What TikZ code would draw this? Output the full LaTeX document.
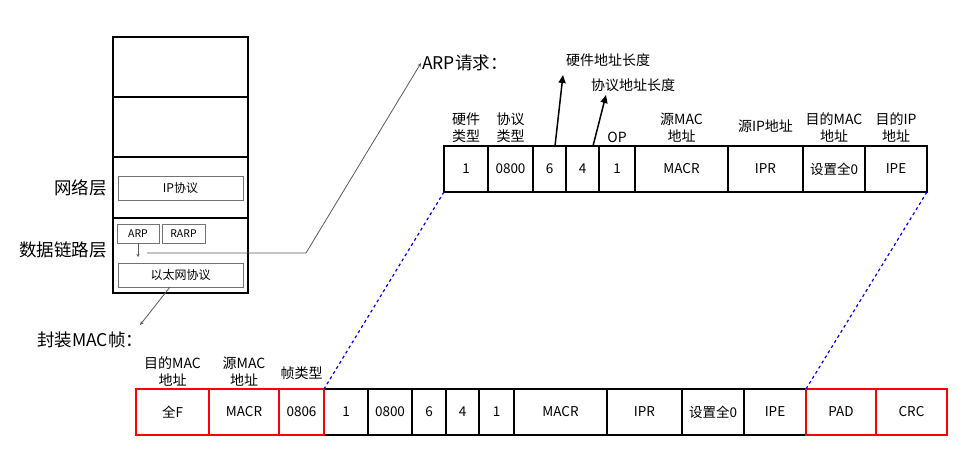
\documentclass[tikz,border=0pt]{standalone}
\usepackage{fontspec}
\setmainfont{Noto Sans CJK SC}
\usetikzlibrary{positioning,arrows.meta}
\begin{document}
\begin{tikzpicture}[x=1pt,y=-1pt,node distance=0pt,
layer/.style={draw,line width=1.5pt,minimum width=135pt,inner sep=0pt,outer sep=0pt},
inbox/.style={draw=black!55,line width=0.8pt,inner sep=0pt,outer sep=0pt,font=\fontsize{12}{14}\selectfont},
cell/.style={draw,line width=1.5pt,minimum height=46pt,inner sep=0pt,outer sep=0pt,font=\fontsize{13.5}{15}\selectfont},
lab/.style={align=center,inner sep=1pt,font=\fontsize{14}{17}\selectfont},
biglab/.style={inner sep=1pt,font=\fontsize{17.5}{20}\selectfont},
gline/.style={draw=black!65,line width=0.8pt,-{Stealth[length=4pt,width=3.5pt]}},
karrow/.style={line width=1.5pt,-{Triangle[length=8pt,width=7pt]}},
bline/.style={blue,line width=1.2pt,dash pattern=on 3pt off 3pt},
redline/.style={red,line width=1.5pt}]
\useasboundingbox (0,0) rectangle (975,462);
% protocol stack
\node[layer,minimum height=60pt,anchor=north west] (s1) at (113,37) {};
\node[layer,minimum height=60pt,below=of s1] (s2) {};
\node[layer,minimum height=61pt,below=of s2] (s3) {};
\node[layer,minimum height=75pt,below=of s3] (s4) {};
\node[inbox,minimum width=125pt,minimum height=24pt] (ip) at (180.5,188) {IP协议};
\node[inbox,minimum width=42pt,minimum height=19pt,font=\fontsize{10.5}{12}\selectfont] (arp) at (138,233.5) {ARP};
\node[inbox,minimum width=43pt,minimum height=19pt,font=\fontsize{10.5}{12}\selectfont,right=3pt of arp] (rarp) {RARP};
\node[inbox,minimum width=125pt,minimum height=24pt] (eth) at (180.5,275) {以太网协议};
\node[biglab,anchor=east] (net) at (108,188) {网络层};
\node[biglab,anchor=east] (link) at (108,250) {数据链路层};
\coordinate (arpdown) at (138,257);
\draw[gline,-{Stealth[length=3pt,width=3pt]}] (arp) -- (arpdown);
% ARP request
\node[biglab,anchor=west] (arpreq) at (421,63) {ARP请求：};
\coordinate (tap) at (147,253); \coordinate (bend) at (306,253);
\draw[gline] (tap) -- (bend) -- (arpreq.west);
\node[cell,minimum width=44pt,anchor=north west] (a1) at (444,146) {1};
\node[cell,minimum width=45pt,right=of a1] (a2) {0800};
\node[cell,minimum width=33pt,right=of a2] (a3) {6};
\node[cell,minimum width=33pt,right=of a3] (a4) {4};
\node[cell,minimum width=36pt,right=of a4] (a5) {1};
\node[cell,minimum width=93pt,right=of a5] (a6) {MACR};
\node[cell,minimum width=75pt,right=of a6] (a7) {IPR};
\node[cell,minimum width=62pt,right=of a7] (a8) {设置全0};
\node[cell,minimum width=62pt,right=of a8] (a9) {IPE};
\node[lab,above=2pt of a1] {硬件\\类型};
\node[lab,above=2pt of a2] {协议\\类型};
\node[lab,above=2pt of a5] {OP};
\node[lab,above=2pt of a6] {源MAC\\地址};
\node[lab,above=12pt of a7] {源IP地址};
\node[lab,above=2pt of a8] {目的MAC\\地址};
\node[lab,above=2pt of a9] {目的IP\\地址};
\node[lab,anchor=west] (hwlen) at (565,60) {硬件地址长度};
\node[lab,anchor=west] (prlen) at (590,85) {协议地址长度};
\coordinate (hwtip) at (563,75); \coordinate (prtip) at (606,95);
\draw[karrow] ([xshift=5.5pt]a3.north) -- (hwtip);
\draw[karrow] ([xshift=10.5pt]a4.north) -- (prtip);
% MAC frame
\node[biglab,anchor=west] (encap) at (36,340) {封装MAC帧：};
\coordinate (encaptip) at (140,325);
\draw[gline] ([xshift=-10.5pt]eth.south) -- (encaptip);
\node[cell,minimum width=73pt,anchor=north west] (f1) at (136,389) {全F};
\node[cell,minimum width=70pt,right=of f1] (f2) {MACR};
\node[cell,minimum width=45pt,right=of f2] (f3) {0806};
\node[cell,minimum width=44pt,right=of f3] (f4) {1};
\node[cell,minimum width=44pt,right=of f4] (f5) {0800};
\node[cell,minimum width=34pt,right=of f5] (f6) {6};
\node[cell,minimum width=33pt,right=of f6] (f7) {4};
\node[cell,minimum width=35pt,right=of f7] (f8) {1};
\node[cell,minimum width=93pt,right=of f8] (f9) {MACR};
\node[cell,minimum width=75pt,right=of f9] (f10) {IPR};
\node[cell,minimum width=62pt,right=of f10] (f11) {设置全0};
\node[cell,minimum width=62pt,right=of f11] (f12) {IPE};
\node[cell,minimum width=70pt,right=of f12] (f13) {PAD};
\node[cell,minimum width=71pt,right=of f13] (f14) {CRC};
\foreach \c in {f1,f2,f3,f13,f14} \draw[redline] (\c.north west) rectangle (\c.south east);
\node[lab,above=2pt of f1] {目的MAC\\地址};
\node[lab,above=2pt of f2] {源MAC\\地址};
\node[lab,above=8pt of f3] {帧类型};
\draw[bline] (a1.south west) -- (f4.north west);
\draw[bline] (a9.south east) -- (f13.north west);
\end{tikzpicture}
\end{document}
